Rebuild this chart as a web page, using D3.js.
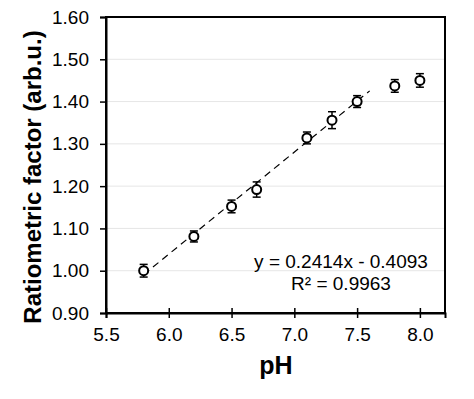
<!DOCTYPE html>
<html>
<head>
<meta charset="utf-8">
<script src="https://cdn.jsdelivr.net/npm/d3@7"></script>
<style>
  body { margin: 0; background: #fff; }
  text { font-family: "Liberation Sans", Arial, sans-serif; }
</style>
</head>
<body>
<div id="chart"></div>
<script>
// data
var phValues = [5.8, 6.2, 6.5, 6.7, 7.1, 7.3, 7.5, 7.8, 8.0];
var ratioValues = [1.000, 1.081, 1.152, 1.192, 1.314, 1.356, 1.400, 1.437, 1.450];
var errValues = [0.015, 0.013, 0.015, 0.018, 0.014, 0.020, 0.014, 0.015, 0.016];
var xTicks = [5.5, 6.0, 6.5, 7.0, 7.5, 8.0];
var yTicks = [0.9, 1.0, 1.1, 1.2, 1.3, 1.4, 1.5, 1.6];
var fitSlope = 0.2414, fitIntercept = -0.4093;
var fitRange = [5.8, 7.6];

var width = 474, height = 399;
var m = { left: 106, right: 445, top: 17, bottom: 313 };

var svg = d3.select("#chart").append("svg")
    .attr("width", width).attr("height", height);

var x = d3.scaleLinear().domain([5.5, 8.2]).range([m.left, m.right]);
var y = d3.scaleLinear().domain([0.9, 1.6]).range([m.bottom, m.top]);

// gridlines
svg.append("g").selectAll("line")
    .data(yTicks.slice(1, -1))
    .enter().append("line")
    .attr("x1", m.left).attr("x2", m.right)
    .attr("y1", function(d) { return y(d); })
    .attr("y2", function(d) { return y(d); })
    .style("stroke", "#e6e6e6").style("stroke-width", 1);

// frame
svg.append("rect")
    .attr("x", m.left).attr("y", m.top)
    .attr("width", m.right - m.left).attr("height", m.bottom - m.top)
    .style("fill", "none").style("stroke", "#000").style("stroke-width", 2);

// y axis
var yAxis = svg.append("g")
    .attr("transform", "translate(" + m.left + ",0)")
    .call(d3.axisLeft(y).tickValues(yTicks).tickFormat(d3.format(".2f")).tickSize(6).tickPadding(11));
yAxis.select(".domain").style("stroke-width", 2);
yAxis.selectAll(".tick line").style("stroke-width", 1.5);
yAxis.selectAll("text").style("font-size", "19px").attr("fill", "#000");

// x axis (cross ticks)
var xAxis = svg.append("g")
    .attr("transform", "translate(0," + m.bottom + ")")
    .call(d3.axisBottom(x).tickValues(xTicks).tickFormat(d3.format(".1f")).tickSize(5).tickPadding(10));
xAxis.select(".domain").style("stroke-width", 2);
xAxis.selectAll(".tick line").attr("y1", -5).style("stroke-width", 1.5);
xAxis.selectAll("text").style("font-size", "19px").attr("fill", "#000");

// trend line
var line = d3.line()
    .x(function(d) { return x(d); })
    .y(function(d) { return y(fitSlope * d + fitIntercept); });
svg.append("path")
    .datum(fitRange)
    .attr("d", line)
    .style("fill", "none").style("stroke", "#000")
    .style("stroke-width", 1.2).style("stroke-dasharray", "7,5");

var points = phValues.map(function(p, i) {
  return { ph: p, r: ratioValues[i], e: errValues[i] };
});

// error bars
var eb = svg.append("g").selectAll("g").data(points).enter().append("g");
eb.append("line")
    .attr("x1", function(d) { return x(d.ph); })
    .attr("x2", function(d) { return x(d.ph); })
    .attr("y1", function(d) { return y(d.r - d.e); })
    .attr("y2", function(d) { return y(d.r + d.e); })
    .style("stroke", "#000").style("stroke-width", 1.5);
[-1, 1].forEach(function(s) {
  eb.append("line")
      .attr("x1", function(d) { return x(d.ph) - 4; })
      .attr("x2", function(d) { return x(d.ph) + 4; })
      .attr("y1", function(d) { return y(d.r + s * d.e); })
      .attr("y2", function(d) { return y(d.r + s * d.e); })
      .style("stroke", "#000").style("stroke-width", 1.5);
});

// markers
svg.append("g").selectAll("circle").data(points).enter().append("circle")
    .attr("cx", function(d) { return x(d.ph); })
    .attr("cy", function(d) { return y(d.r); })
    .attr("r", 4.5)
    .style("fill", "#fff").style("stroke", "#000").style("stroke-width", 2);

// equation
svg.append("text")
    .attr("x", 341).attr("y", 268)
    .attr("text-anchor", "middle")
    .style("font-size", "19px")
    .text("y = 0.2414x - 0.4093");
svg.append("text")
    .attr("x", 341).attr("y", 290)
    .attr("text-anchor", "middle")
    .style("font-size", "19px")
    .text("R\u00b2 = 0.9963");

// axis titles
svg.append("text")
    .attr("x", 276).attr("y", 374)
    .attr("text-anchor", "middle")
    .style("font-size", "25px").style("font-weight", "bold")
    .text("pH");
svg.append("text")
    .attr("transform", "translate(41," + ((m.top + m.bottom) / 2 + 12) + ") rotate(-90)")
    .attr("text-anchor", "middle")
    .style("font-size", "24px").style("font-weight", "bold")
    .text("Ratiometric factor (arb.u.)");
</script>
</body>
</html>
